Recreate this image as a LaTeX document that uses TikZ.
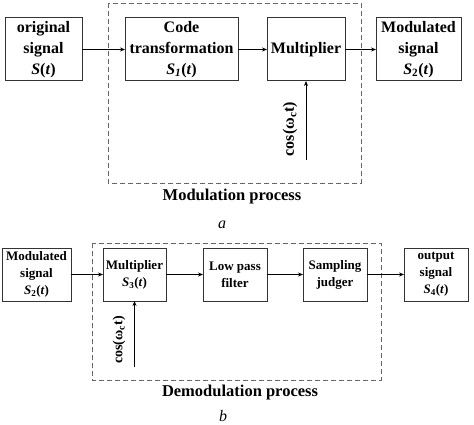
\documentclass[tikz,border=0pt]{standalone}
\usepackage{fontspec}
\setmainfont{Liberation Serif}
\usetikzlibrary{arrows.meta}
\tikzset{
  blk/.style={draw=black!80, line width=1pt, inner sep=0pt, outer sep=0pt, align=center, font=\bfseries\fontsize{16}{21}\selectfont},
  sblk/.style={blk, font=\bfseries\fontsize{13}{17}\selectfont},
  proc/.style={draw=black!60, line width=0.9pt, dash pattern=on 5pt off 3pt},
  arr/.style={line width=0.8pt, -{Stealth[length=5pt,width=4pt]}},
  ttl/.style={font=\bfseries\fontsize{16.5}{20}\selectfont},
  sub/.style={inner sep=1pt, font=\itshape\fontsize{16}{20}\selectfont}
}
\begin{document}
\begin{tikzpicture}[x=1pt,y=-1pt]
\useasboundingbox (0,0) rectangle (474,425);
% ---- part a ----
\draw[proc] (108,3) rectangle (361,183);
\node[blk, minimum width=77pt, minimum height=63pt] (orig) at (43.5,49.5) {original\\signal\\\textit{S}(\textit{t})};
\node[blk, minimum width=113pt, minimum height=63pt] (code) at (181.5,49.5) {Code\\transformation\\\textit{S\textsubscript{1}}(\textit{t})};
\node[blk, minimum width=78pt, minimum height=63pt] (mult) at (306,49.5) {Multiplier};
\node[blk, minimum width=85pt, minimum height=63pt] (mod) at (418.5,49.5) {Modulated\\signal\\\textit{S}\textsubscript{2}(\textit{t})};
\coordinate (cosa) at (306,160);
\draw[arr] (orig) -- (code);
\draw[arr] (code) -- (mult);
\draw[arr] (mult) -- (mod);
\draw[arr] (cosa) -- (mult);
\node[rotate=90, font=\bfseries\fontsize{16}{20}\selectfont] (cosla) at (290,129) {cos(ω\textsubscript{c}t)};
\node[ttl] (ttla) at (232,197) {Modulation process};
\node[sub] (la) at (222,225) {a};
% ---- part b ----
\draw[proc] (92,243) rectangle (381,380);
\node[sblk, minimum width=69pt, minimum height=53pt] (mod2) at (36.5,274.5) {Modulated\\signal\\\textit{S}\textsubscript{2}(\textit{t})};
\node[sblk, minimum width=63pt, minimum height=53pt] (mult3) at (134.5,274.5) {Multiplier\\\textit{S}\textsubscript{3}(\textit{t})};
\node[sblk, minimum width=64pt, minimum height=53pt] (lpf) at (235,274.5) {Low pass\\filter};
\node[sblk, minimum width=64pt, minimum height=53pt] (samp) at (335,274.5) {Sampling\\judger};
\node[sblk, minimum width=64pt, minimum height=53pt] (out) at (436,274.5) {output\\signal\\\textit{S}\textsubscript{4}(\textit{t})};
\coordinate (cosb) at (134.5,367);
\draw[arr] (mod2) -- (mult3);
\draw[arr] (mult3) -- (lpf);
\draw[arr] (lpf) -- (samp);
\draw[arr] (samp) -- (out);
\draw[arr] (cosb) -- (mult3);
\node[rotate=90, font=\bfseries\fontsize{14}{18}\selectfont] (coslb) at (119,340) {cos(ω\textsubscript{c}t)};
\node[ttl] (ttlb) at (240,393) {Demodulation process};
\node[sub] (lb) at (223,416) {b};
\end{tikzpicture}
\end{document}
